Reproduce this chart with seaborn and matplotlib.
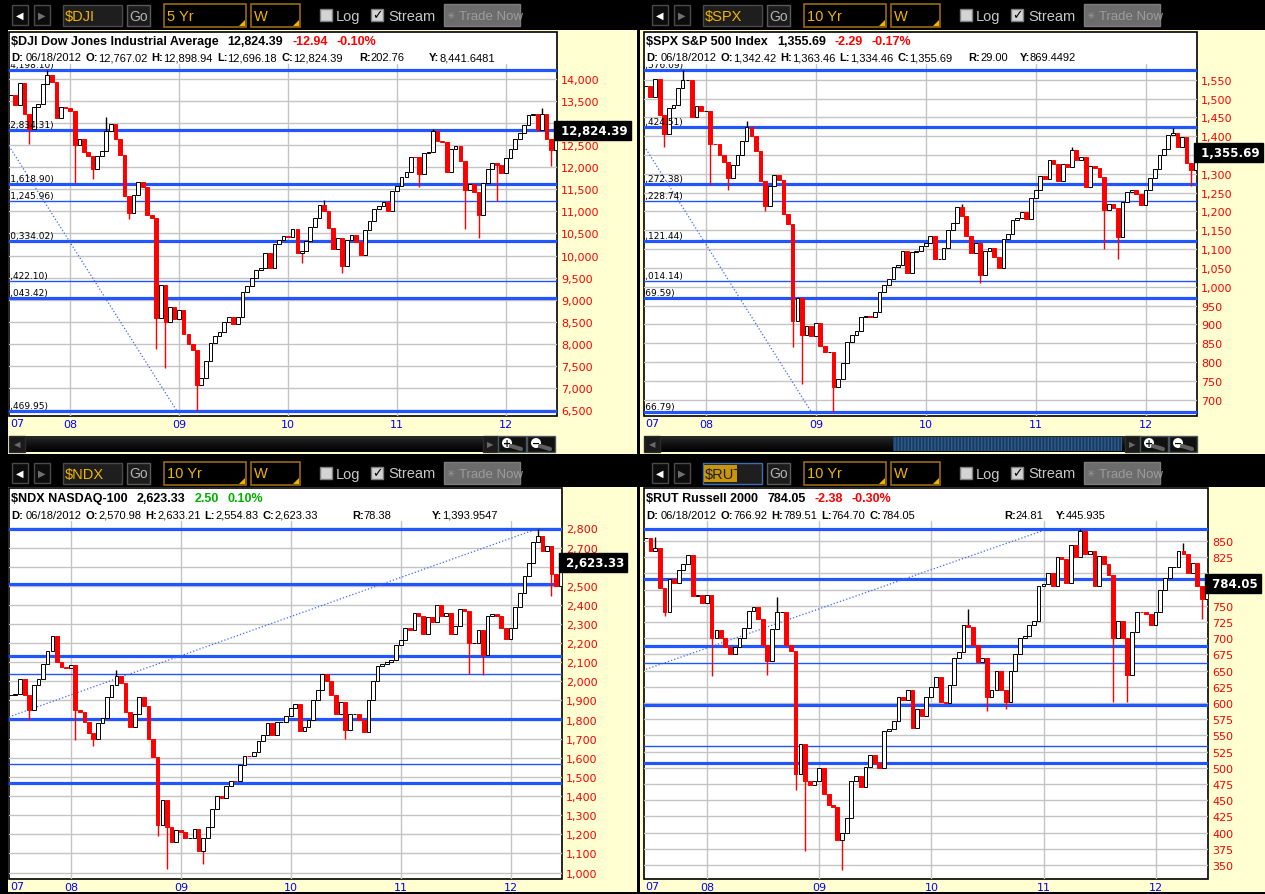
import numpy as np
import pandas as pd
import matplotlib
matplotlib.use("Agg")
import matplotlib.pyplot as plt
import matplotlib.transforms as mtransforms
from matplotlib.patches import Rectangle, Circle, Polygon
from matplotlib.colors import LinearSegmentedColormap
import seaborn as sns

# ---- data: semi-monthly closes (15th / month end), Jun 15 2007 -> Jun 15 2012 ----
dji_close = [13640, 13408, 13900, 13212, 12860, 13358, 13440, 13896, 14090, 13930, 13110, 13372, 13340, 13265,
             12500, 12650, 12350, 12266, 11950, 12263, 12360, 12820, 12990, 12638, 12270, 11350,
             10960, 11378, 11660, 11544, 10917, 10851, 8578, 9325, 8497, 8829, 8565, 8776,
             8212, 8001, 7850, 7063, 7224, 7609, 8029, 8168, 8268, 8500, 8612, 8447,
             8616, 9172, 9321, 9496, 9683, 9712, 10062, 9713, 10270, 10345, 10452, 10428,
             10610, 10067, 10099, 10325, 10643, 10857, 11144, 11009, 10620, 10137, 10405, 9774,
             10360, 10466, 10303, 10015, 10572, 10788, 11062, 11118, 11202, 11006, 11457, 11578,
             11787, 11892, 12227, 12226, 11855, 12320, 12342, 12811, 12596, 12570, 11898, 12414,
             12480, 12143, 11482, 11614, 11434, 10913, 11644, 11955, 12096, 12046, 11869, 12218,
             12422, 12633, 12781, 12952, 13194, 13212, 12850, 13214, 12632, 12393, 12824]
spx_close = [1533, 1503, 1553, 1455, 1407, 1474, 1484, 1527, 1548, 1549, 1452, 1481, 1468, 1468,
             1380, 1379, 1349, 1331, 1288, 1323, 1351, 1386, 1424, 1400, 1360, 1280,
             1214, 1267, 1298, 1283, 1193, 1166, 908, 969, 873, 896, 868, 903,
             843, 826, 827, 735, 756, 798, 852, 873, 883, 919, 923, 919,
             932, 987, 1004, 1021, 1052, 1057, 1096, 1036, 1093, 1096, 1107, 1115,
             1136, 1074, 1075, 1104, 1150, 1169, 1211, 1187, 1136, 1089, 1115, 1031,
             1096, 1102, 1079, 1049, 1126, 1141, 1176, 1183, 1199, 1181, 1236, 1258,
             1293, 1286, 1336, 1327, 1281, 1326, 1319, 1364, 1338, 1345, 1266, 1321,
             1316, 1292, 1204, 1219, 1209, 1131, 1225, 1253, 1257, 1247, 1216, 1258,
             1289, 1312, 1351, 1366, 1403, 1408, 1370, 1398, 1330, 1310, 1356]
ndx_close = [1930, 1934, 2010, 1930, 1850, 1981, 2010, 2091, 2160, 2239, 2100, 2075, 2070, 2085,
             1850, 1841, 1790, 1729, 1700, 1781, 1810, 1917, 1980, 2030, 1990, 1838,
             1760, 1830, 1920, 1872, 1700, 1605, 1250, 1378, 1240, 1160, 1220, 1212,
             1180, 1180, 1230, 1110, 1180, 1237, 1330, 1400, 1390, 1450, 1480, 1477,
             1560, 1612, 1610, 1632, 1690, 1720, 1780, 1718, 1790, 1790, 1820, 1860,
             1880, 1740, 1760, 1800, 1900, 1956, 2040, 2000, 1930, 1830, 1890, 1747,
             1830, 1830, 1800, 1735, 1900, 2000, 2080, 2090, 2100, 2110, 2190, 2217,
             2280, 2270, 2360, 2340, 2250, 2338, 2310, 2400, 2340, 2360, 2250, 2290,
             2380, 2370, 2200, 2200, 2270, 2140, 2340, 2350, 2340, 2280, 2220, 2278,
             2390, 2460, 2550, 2620, 2730, 2760, 2680, 2710, 2560, 2500, 2623]
rut_close = [855, 834, 840, 777, 740, 792, 785, 806, 815, 828, 765, 767, 755, 766,
             700, 713, 700, 686, 675, 687, 700, 715, 742, 748, 730, 689,
             665, 714, 740, 740, 690, 680, 490, 537, 480, 473, 480, 499,
             460, 443, 440, 389, 400, 423, 480, 487, 470, 501, 520, 508,
             500, 557, 560, 572, 610, 604, 620, 562, 590, 580, 610, 625,
             640, 602, 600, 628, 670, 678, 720, 717, 690, 663, 670, 609,
             620, 650, 620, 602, 650, 676, 700, 703, 720, 727, 780, 784,
             800, 781, 825, 823, 785, 844, 825, 865, 830, 835, 780, 827,
             815, 797, 700, 726, 700, 644, 710, 741, 740, 737, 720, 741,
             775, 793, 810, 810, 835, 830, 800, 816, 780, 761, 784]

# intra-period extremes (wicks)
dji_wick_dates = ["2007-08-16", "2007-10-11", "2008-01-22", "2008-03-10", "2008-05-02", "2008-07-15",
                  "2008-10-10", "2008-11-21", "2009-03-06", "2010-02-08", "2010-04-26", "2010-07-02",
                  "2011-03-16", "2011-05-02", "2011-08-09", "2011-10-04", "2011-11-25", "2012-05-01", "2012-06-04"]
dji_wick_vals = [12518, 14198, 11634, 11731, 13137, 10828, 7882, 7450, 6470, 9836, 11258, 9614,
                 11555, 12876, 10604, 10404, 11231, 13338, 12036]
spx_wick_dates = ["2007-08-16", "2007-10-11", "2008-01-23", "2008-03-17", "2008-05-19", "2008-07-15",
                  "2008-10-10", "2008-11-21", "2009-03-06", "2010-04-26", "2010-07-01", "2011-05-02",
                  "2011-08-09", "2011-10-04", "2012-04-02", "2012-06-04"]
spx_wick_vals = [1371, 1576, 1271, 1257, 1440, 1200, 840, 741, 667, 1220, 1011, 1371,
                 1101, 1074, 1422, 1267]
ndx_wick_dates = ["2007-08-16", "2007-11-01", "2008-01-22", "2008-03-17", "2008-06-05", "2008-10-10",
                  "2008-11-20", "2009-03-09", "2010-04-26", "2010-07-01", "2011-08-09", "2011-10-04",
                  "2012-03-27", "2012-05-18"]
ndx_wick_vals = [1800, 2239, 1693, 1660, 2060, 1190, 1018, 1043, 2040, 1700, 2038, 2034, 2795, 2444]
rut_wick_dates = ["2007-07-13", "2007-08-16", "2008-01-22", "2008-07-15", "2008-08-22", "2008-10-10",
                  "2008-11-21", "2009-03-09", "2010-04-26", "2010-07-06", "2010-08-26", "2011-04-29",
                  "2011-08-09", "2011-10-04", "2012-03-26", "2012-06-04"]
rut_wick_vals = [856, 735, 641, 643, 763, 465, 371, 343, 745, 588, 590, 868, 602, 602, 847, 730]

# retracement levels
dji_fib_major = [14198.10, 12834.31, 11618.90, 10334.02, 9043.42, 6469.95]
dji_fib_minor = [11245.96, 9422.10]
spx_fib_major = [1576.09, 1424.51, 1272.38, 1121.44, 969.59, 666.79]
spx_fib_minor = [1228.74, 1014.14]
ndx_fib_major = [2797, 2511, 2133, 1803, 1468]
ndx_fib_minor = [2040, 1566]
rut_fib_major = [868.5, 791.4, 687.5, 596.5, 507.4]
rut_fib_minor = [661, 533]

# trend lines (decimal year, value)
dji_trend_x = [2007.437, 2008.98]
dji_trend_y = [12482, 6470]
spx_trend_x = [2007.455, 2008.96]
spx_trend_y = [1366, 666.79]
ndx_trend_x = [2007.437, 2012.236]
ndx_trend_y = [1814, 2797]
rut_trend_x = [2007.455, 2011.01]
rut_trend_y = [652, 867]

year_ticks = [2008, 2009, 2010, 2011, 2012]
year_labels = ["08", "09", "10", "11", "12"]

# header texts
headers = {
    "DJI": dict(name="$DJI Dow Jones Industrial Average", last="12,824.39", chg="-12.94", pct="-0.10%", up=False,
                o="12,767.02", h="12,898.94", l="12,696.18", c="12,824.39", r="202.76", y="8,441.6481"),
    "SPX": dict(name="$SPX S&P 500 Index", last="1,355.69", chg="-2.29", pct="-0.17%", up=False,
                o="1,342.42", h="1,363.46", l="1,334.46", c="1,355.69", r="29.00", y="869.4492"),
    "NDX": dict(name="$NDX NASDAQ-100", last="2,623.33", chg="2.50", pct="0.10%", up=True,
                o="2,570.98", h="2,633.21", l="2,554.83", c="2,623.33", r="78.38", y="1,393.9547"),
    "RUT": dict(name="$RUT Russell 2000", last="784.05", chg="-2.38", pct="-0.30%", up=False,
                o="766.92", h="789.51", l="764.70", c="784.05", r="24.81", y="445.935"),
}

months = pd.period_range("2007-06", "2012-06", freq="M")
obs_dates = []
for p in months:
    obs_dates.append(p.start_time + pd.Timedelta(days=14))
    obs_dates.append(p.end_time.normalize())
obs_dates = obs_dates[:-1]


def decyear(d):
    d = pd.Timestamp(d)
    n = 366 if d.is_leap_year else 365
    return d.year + (d.dayofyear - 0.5) / n


obs_x = np.array([decyear(d) for d in obs_dates])

# ---- figure ----
sns.set_style("white")
plt.rcParams["font.family"] = ["DejaVu Sans"]
W, H = 1265, 895
fig = plt.figure(figsize=(W / 100, H / 100), dpi=100, facecolor="black")
bg = fig.add_axes([0, 0, 1, 1])
bg.set_facecolor("black")
bg.axis("off")
renderer = fig.canvas.get_renderer()

YELLOW = "#ffffd2"
FIBBLUE = "#2156ff"
UIFONT = "Liberation Sans"
XLIM = (2007.437, 2012.466)


def rect(x0, y0, x1, y1, **kw):
    bg.add_patch(Rectangle((x0, y0), x1 - x0, y1 - y0, **kw))


def toolbar(x0, y0, sym, period, active=False):
    rect(x0 + 12, y0 + 6, x0 + 28, y0 + 26, fc="#0c0c0c", ec="#4a4a4a", lw=1, zorder=2)
    bg.text(x0 + 20, y0 + 16, "◀", color="white", fontsize=7, ha="center", va="center", zorder=3)
    rect(x0 + 34, y0 + 6, x0 + 50, y0 + 26, fc="#0c0c0c", ec="#4a4a4a", lw=1, zorder=2)
    bg.text(x0 + 42, y0 + 16, "▶", color="#707070", fontsize=7, ha="center", va="center", zorder=3)
    rect(x0 + 63, y0 + 6, x0 + 122, y0 + 27, fc="#1e1e1e", ec="#3f6fb0" if active else "#4a4a4a", lw=1, zorder=2)
    if active:
        rect(x0 + 64, y0 + 8, x0 + 97, y0 + 25, fc="#c8960c", ec="none", zorder=2)
    bg.text(x0 + 65, y0 + 16.5, sym, color="#202020" if active else "#f0b400", fontsize=10.5,
            va="center", family=UIFONT, zorder=3)
    rect(x0 + 127, y0 + 6, x0 + 150, y0 + 27, fc="#1c1c1c", ec="#5a5a5a", lw=1, zorder=2)
    bg.text(x0 + 138.5, y0 + 16.5, "Go", color="#b4b4b4", fontsize=10, ha="center", va="center",
            family=UIFONT, zorder=3)
    for a, b, s in [(164, 246, period), (251, 300, "W")]:
        rect(x0 + a, y0 + 5, x0 + b, y0 + 28, fc="black", ec="#9a6a10", lw=1.2, zorder=2)
        bg.text(x0 + a + 3, y0 + 16.5, s, color="#f0b400", fontsize=10.5, va="center", family=UIFONT, zorder=3)
        bg.add_patch(Polygon([[x0 + b - 1, y0 + 21], [x0 + b - 1, y0 + 27], [x0 + b - 7, y0 + 27]],
                             closed=True, fc="#f0b400", ec="none", zorder=3))
    rect(x0 + 320, y0 + 10, x0 + 332, y0 + 22, fc="#d4d4d4", ec="#808080", lw=1, zorder=2)
    bg.text(x0 + 336, y0 + 16.5, "Log", color="#c8c8c8", fontsize=10.5, va="center", family=UIFONT, zorder=3)
    rect(x0 + 371, y0 + 10, x0 + 383, y0 + 22, fc="#d4d4d4", ec="#808080", lw=1, zorder=2)
    bg.text(x0 + 377, y0 + 16, "✓", color="black", fontsize=9, ha="center", va="center",
            fontweight="bold", zorder=3)
    bg.text(x0 + 388, y0 + 16.5, "Stream", color="#c8c8c8", fontsize=10.5, va="center", family=UIFONT, zorder=3)
    rect(x0 + 444, y0 + 5, x0 + 520, y0 + 27, fc="#6c6c6c", ec="#7c7c7c", lw=1, zorder=2)
    bg.text(x0 + 451, y0 + 16, "✳", color="#9a9a9a", fontsize=7, ha="center", va="center", zorder=3)
    bg.text(x0 + 459, y0 + 16.5, "Trade Now", color="#9c9c9c", fontsize=9.5, va="center", family=UIFONT, zorder=3)


scroll_cmap = LinearSegmentedColormap.from_list("sb", ["#2a2a2a", "#121212", "#000000"])


def scrollbar(x0, x1, y0, y1, thumb=None):
    grad = np.linspace(0, 1, 32)[:, None]
    bg.imshow(grad, extent=[x0, x1, y1, y0], cmap=scroll_cmap, aspect="auto", zorder=2)
    if thumb is not None:
        rect(thumb[0], y0 + 1, thumb[1], y1 - 1, fc="#1b3c62", ec="#2d5c8c", lw=0, hatch="|||||", zorder=3)
    rect(x0, y0, x0 + 16, y1, fc="#1a1a1a", ec="#2a2a2a", lw=1, zorder=3)
    bg.text(x0 + 8, (y0 + y1) / 2, "◀", color="#6a6a6a", fontsize=6, ha="center", va="center", zorder=4)
    rect(x1 - 72, y0, x1 - 57, y1, fc="#1a1a1a", ec="#2a2a2a", lw=1, zorder=3)
    bg.text(x1 - 64.5, (y0 + y1) / 2, "▶", color="#6a6a6a", fontsize=6, ha="center", va="center", zorder=4)
    for k, sign in enumerate(["+", "−"]):
        bx = x1 - 57 + 29 * k
        rect(bx, y0, bx + 28, y1, fc="#101010", ec="#4a5560", lw=1, zorder=3)
        bg.add_patch(Circle((bx + 9, (y0 + y1) / 2 - 1), 5, fc="white", ec="none", zorder=4))
        bg.plot([bx + 13, bx + 23], [(y0 + y1) / 2 + 2, (y0 + y1) / 2 + 5], color="#606060", lw=3,
                solid_capstyle="round", zorder=4)
        bg.text(bx + 9, (y0 + y1) / 2 - 1, sign, color="black", fontsize=7, fontweight="bold",
                ha="center", va="center", zorder=5)


def chain(x, y, parts):
    for s, kw, gap in parts:
        t = bg.text(x, y, s, va="center", ha="left", zorder=4, family=UIFONT, **kw)
        x += t.get_window_extent(renderer=renderer).width + gap
    return x


def header(px0, ty, dy, info, r_off, y_off):
    col = "#00b000" if info["up"] else "#ff0000"
    b = dict(fontsize=9, fontweight="bold", color="black")
    bc = dict(fontsize=9, fontweight="bold", color=col)
    chain(px0 + 2, ty, [(info["name"], b, 9), (info["last"], b, 9), (info["chg"], bc, 9), (info["pct"], bc, 0)])
    nb = dict(fontsize=8, color="black")
    bb = dict(fontsize=8, color="black", fontweight="bold")
    x = chain(px0 + 2, dy, [("D:", bb, 3), ("06/18/2012", nb, 4), ("O:", bb, 0), (info["o"], nb, 4),
                            ("H:", bb, 0), (info["h"], nb, 4), ("L:", bb, 0), (info["l"], nb, 4),
                            ("C:", bb, 0), (info["c"], nb, 0)])
    x = chain(max(px0 + r_off, x + 16), dy, [("R:", bb, 0), (info["r"], nb, 0)])
    chain(max(px0 + y_off, x + 12), dy, [("Y:", bb, 0), (info["y"], nb, 0)])


def candles(ax, close, wick_dates, wick_vals):
    c = np.asarray(close, float)
    o = np.r_[c[0], c[:-1]]
    up = c >= o
    for wd, wv in zip(wick_dates, wick_vals):
        j = int(np.argmin(np.abs(obs_x - decyear(wd))))
        col = "red" if wv < c[j] else "black"
        ax.vlines(obs_x[j], min(wv, c[j]), max(wv, c[j]), color=col, lw=1, zorder=2.6)
    bw = 0.034
    ax.bar(obs_x[up], (c - o)[up], bottom=o[up], width=bw, color="white", edgecolor="black", lw=0.7, zorder=3)
    ax.bar(obs_x[~up], (c - o)[~up], bottom=o[~up], width=bw, color="red", edgecolor="red", lw=0.7, zorder=3)


panels = [
    dict(key="DJI", close=dji_close, wd=dji_wick_dates, wv=dji_wick_vals, major=dji_fib_major,
         minor=dji_fib_minor, tx=dji_trend_x, ty=dji_trend_y, plot=(9, 65, 557, 417), box_top=33,
         panel=(8, 31, 637, 455), ylim=(6364, 14340), ticks=np.arange(6500, 14001, 500),
         labels=True, r_off=350, y_off=420, title_y=42, det_y=58, tb=(0, 0, "$DJI", "5 Yr", False),
         scroll=(9, 555, 437, 453, None)),
    dict(key="SPX", close=spx_close, wd=spx_wick_dates, wv=spx_wick_vals, major=spx_fib_major,
         minor=spx_fib_minor, tx=spx_trend_x, ty=spx_trend_y, plot=(644, 65, 1197, 417), box_top=33,
         panel=(640, 31, 1265, 455), ylim=(656.7, 1591.7), ticks=np.arange(700, 1551, 50),
         labels=True, r_off=318, y_off=369, title_y=42, det_y=58, tb=(640, 0, "$SPX", "10 Yr", False),
         scroll=(644, 1197, 437, 453, (893, 1122))),
    dict(key="NDX", close=ndx_close, wd=ndx_wick_dates, wv=ndx_wick_vals, major=ndx_fib_major,
         minor=ndx_fib_minor, tx=ndx_trend_x, ty=ndx_trend_y, plot=(9, 522, 562, 880), box_top=489,
         panel=(8, 488, 637, 893), ylim=(966, 2839), ticks=np.arange(1000, 2801, 100),
         labels=False, r_off=343, y_off=423, title_y=499, det_y=516, tb=(0, 458, "$NDX", "10 Yr", False),
         scroll=None),
    dict(key="RUT", close=rut_close, wd=rut_wick_dates, wv=rut_wick_vals, major=rut_fib_major,
         minor=rut_fib_minor, tx=rut_trend_x, ty=rut_trend_y, plot=(644, 522, 1208, 880), box_top=489,
         panel=(640, 488, 1265, 893), ylim=(328.4, 880.9), ticks=np.arange(350, 851, 25),
         labels=False, r_off=360, y_off=395, title_y=499, det_y=516, tb=(640, 458, "$RUT", "10 Yr", True),
         scroll=None),
]

for cfg in panels:
    px0, py0, px1, py1 = cfg["plot"]
    qx0, qy0, qx1, qy1 = cfg["panel"]
    rect(qx0, qy0, qx1, qy1, fc=YELLOW, ec="none", zorder=1)
    toolbar(*cfg["tb"])
    if cfg["scroll"] is not None:
        scrollbar(*cfg["scroll"])
    rect(px0, cfg["box_top"], px1, py1, fc="white", ec="black", lw=1.2, zorder=2)
    info = headers[cfg["key"]]
    header(px0, cfg["title_y"], cfg["det_y"], info, cfg["r_off"], cfg["y_off"])

    ax = fig.add_axes([px0 / W, 1 - py1 / H, (px1 - px0) / W, (py1 - py0) / H])
    ax.set_facecolor("none")
    for s in ax.spines.values():
        s.set_visible(False)
    ax.set_xlim(*XLIM)
    ylo, yhi = cfg["ylim"]
    ax.set_ylim(ylo, yhi)
    ax.set_xticks(year_ticks)
    ax.set_xticklabels(year_labels)
    last = cfg["close"][-1]
    px_per_unit = (py1 - py0) / (yhi - ylo)
    ax.set_yticks(cfg["ticks"])
    ax.set_yticklabels(["" if abs(v - last) * px_per_unit < 11 else f"{v:,.0f}" for v in cfg["ticks"]])
    ax.yaxis.tick_right()
    ax.tick_params(axis="y", length=0, pad=3, labelcolor="#ff0000", labelsize=8)
    ax.tick_params(axis="x", length=0, pad=2, labelcolor="#0000ff", labelsize=8)
    ax.grid(True, color="#c4c4c4", lw=1)
    ax.set_axisbelow(True)
    ax.annotate("07", xy=(0, 0), xycoords="axes fraction", xytext=(1, -2), textcoords="offset pixels",
                ha="left", va="top", color="#0000ff", fontsize=8)

    blend = mtransforms.blended_transform_factory(ax.transAxes, ax.transData)
    for lv in cfg["major"]:
        ax.axhline(lv, color=FIBBLUE, lw=2.3, zorder=2)
    for lv in cfg["minor"]:
        ax.axhline(lv, color=FIBBLUE, lw=1.0, zorder=2)
    if cfg["labels"]:
        for lv in cfg["major"] + cfg["minor"]:
            ax.annotate(f"({lv:,.2f})", xy=(0, lv), xycoords=blend, xytext=(-8, 1), textcoords="offset pixels",
                        ha="left", va="bottom", fontsize=6.5, color="black", clip_on=True, zorder=4)

    sns.lineplot(x=cfg["tx"], y=cfg["ty"], ax=ax, color="#3a66ff", linewidth=0.9, linestyle=":", zorder=2.4)
    candles(ax, cfg["close"], cfg["wd"], cfg["wv"])

    ax.text(1.0, last, " " + info["last"], transform=blend, ha="left", va="center",
            color="white", fontweight="bold", fontsize=8.5, clip_on=False, zorder=10,
            bbox=dict(boxstyle="square,pad=0.25", fc="black", ec="black"))

bg.set_xlim(0, W)
bg.set_ylim(H, 0)
fig.savefig("out.png", dpi=100, facecolor="black")
